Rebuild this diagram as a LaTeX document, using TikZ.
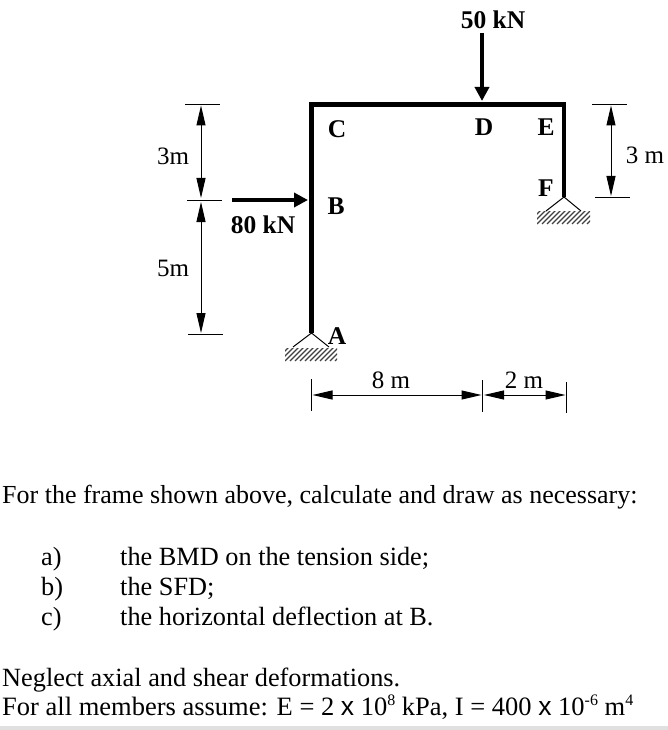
\documentclass[tikz,border=0pt]{standalone}
\usepackage{fontspec}
\setmainfont{Liberation Serif}
\newfontfamily\xfont{Liberation Sans}
\usetikzlibrary{arrows.meta}
\tikzset{
  member/.style={line width=4.5pt,line join=miter,line cap=butt},
  load/.style={line width=4.5pt,-{Triangle[length=14pt,width=14pt]},shorten >=1pt},
  dim/.style={line width=1pt,{Triangle[length=20pt,width=9pt]}-{Triangle[length=20pt,width=9pt]}},
  tick/.style={line width=1pt},
  lab/.style={inner sep=0pt,font=\fontsize{25}{25}\selectfont},
  blab/.style={inner sep=0pt,font=\fontsize{25.5}{25}\selectfont\bfseries},
  txt/.style={inner sep=0pt,anchor=base west,font=\fontsize{26}{26}\selectfont},
  txtb/.style={inner sep=0pt,anchor=base west,font=\fontsize{26.3}{26}\selectfont},
  txtc/.style={inner sep=0pt,anchor=base west,font=\fontsize{26.5}{26}\selectfont},
  sup/.style={line width=1pt,line join=miter}
}
\newcommand{\hatchbox}[4]{%
  \begin{scope}
    \clip (#1,#2) rectangle (#3,#4);
    \foreach \k in {-40,-35,...,80} {\draw[line width=1.3pt,black!75] (#1+\k,#4) -- (#1+\k+20,#4-20);}
  \end{scope}}
\newcommand{\supr}[1]{\raisebox{10pt}{\fontsize{16}{16}\selectfont #1}}
\begin{document}
\begin{tikzpicture}[x=1pt,y=-1pt]
\useasboundingbox (0,0) rectangle (668,730);
\fill[white] (0,0) rectangle (668,730);
\fill[black!12] (0,726) rectangle (668,730);
% frame
\coordinate (A) at (311.5,333);
\coordinate (Cc) at (311.5,104.5);
\coordinate (Ec) at (564,104.5);
\coordinate (Fp) at (564,197);
\draw[member] (A) -- (Cc) -- (Ec) -- (Fp);
% supports
\coordinate (Al) at (293,347); \coordinate (Ar) at (329,347);
\coordinate (Fl) at (546,211); \coordinate (Fr) at (581,211);
\draw[sup] (Al) -- (A) -- (Ar);
\draw[sup] (Fl) -- (Fp) -- (Fr);
\hatchbox{285}{348}{337}{361}
\hatchbox{537}{211}{590}{224}
% loads
\coordinate (L1) at (232,200); \coordinate (B) at (309,200);
\draw[load] (L1) -- (B);
\coordinate (L2) at (482,33); \coordinate (D) at (482,102);
\draw[load] (L2) -- (D);
% left dimensions
\coordinate (t1a) at (185,104.5); \coordinate (t1b) at (220,104.5);
\coordinate (t2a) at (187,200); \coordinate (t2b) at (222,200);
\coordinate (t3a) at (188,334); \coordinate (t3b) at (223,334);
\draw[tick] (t1a) -- (t1b); \draw[tick] (t2a) -- (t2b); \draw[tick] (t3a) -- (t3b);
\coordinate (d1) at (201,105.5); \coordinate (d2) at (201,198); \coordinate (d3) at (201,202); \coordinate (d4) at (201,333);
\draw[dim] (d1) -- (d2);
\draw[dim] (d3) -- (d4);
% right dimension
\coordinate (t4a) at (592,104.5); \coordinate (t4b) at (627,104.5);
\coordinate (t5a) at (595,197); \coordinate (t5b) at (630,197);
\draw[tick] (t4a) -- (t4b); \draw[tick] (t5a) -- (t5b);
\coordinate (d5) at (611,105.5); \coordinate (d6) at (611,196);
\draw[dim] (d5) -- (d6);
% bottom dimensions
\coordinate (u1a) at (311.5,379); \coordinate (u1b) at (311.5,411);
\coordinate (u2a) at (482.5,380); \coordinate (u2b) at (482.5,412);
\coordinate (u3a) at (566.5,382); \coordinate (u3b) at (566.5,413);
\draw[tick] (u1a) -- (u1b); \draw[tick] (u2a) -- (u2b); \draw[tick] (u3a) -- (u3b);
\coordinate (e1) at (312.5,395); \coordinate (e2) at (481.5,395); \coordinate (e3) at (484,395); \coordinate (e4) at (565.5,395);
\draw[dim] (e1) -- (e2);
\draw[dim] (e3) -- (e4);
% labels
\node[blab] (nC) at (337,129) {C};
\node[blab] (nD) at (484,127) {D};
\node[blab] (nE) at (546,127) {E};
\node[blab] (nF) at (546,188) {F};
\node[blab] (nB) at (336,206) {B};
\node[blab] (nA) at (337,336) {A};
\node[blab] (n80) at (263,225) {80 kN};
\node[blab] (n50) at (493,20) {50 kN};
\node[lab] (l3) at (173,156) {3m};
\node[lab] (l5) at (173,268) {5m};
\node[lab] (l3r) at (645,155) {3 m};
\node[lab] (l8) at (391,380) {8 m};
\node[lab] (l2) at (524,380) {2 m};
% text
\node[txt] (t1) at (2,503) {For the frame shown above, calculate and draw as necessary:};
\node[txtb] (a1) at (41,565) {a)};
\node[txtb] (a2) at (120,565) {the BMD on the tension side;};
\node[txtb] (b1) at (41,595) {b)};
\node[txtb] (b2) at (120,595) {the SFD;};
\node[txtb] (c1) at (41,625) {c)};
\node[txtb] (c2) at (120,625) {the horizontal deflection at B.};
\node[txtb] (n1) at (2,686) {Neglect axial and shear deformations.};
\node[txtc] (n2) at (2,715) {For all members assume: E = 2 {\xfont x} 10\supr{8} kPa, I = 400 {\xfont x} 10\supr{-6} m\supr{4}};
\end{tikzpicture}
\end{document}
